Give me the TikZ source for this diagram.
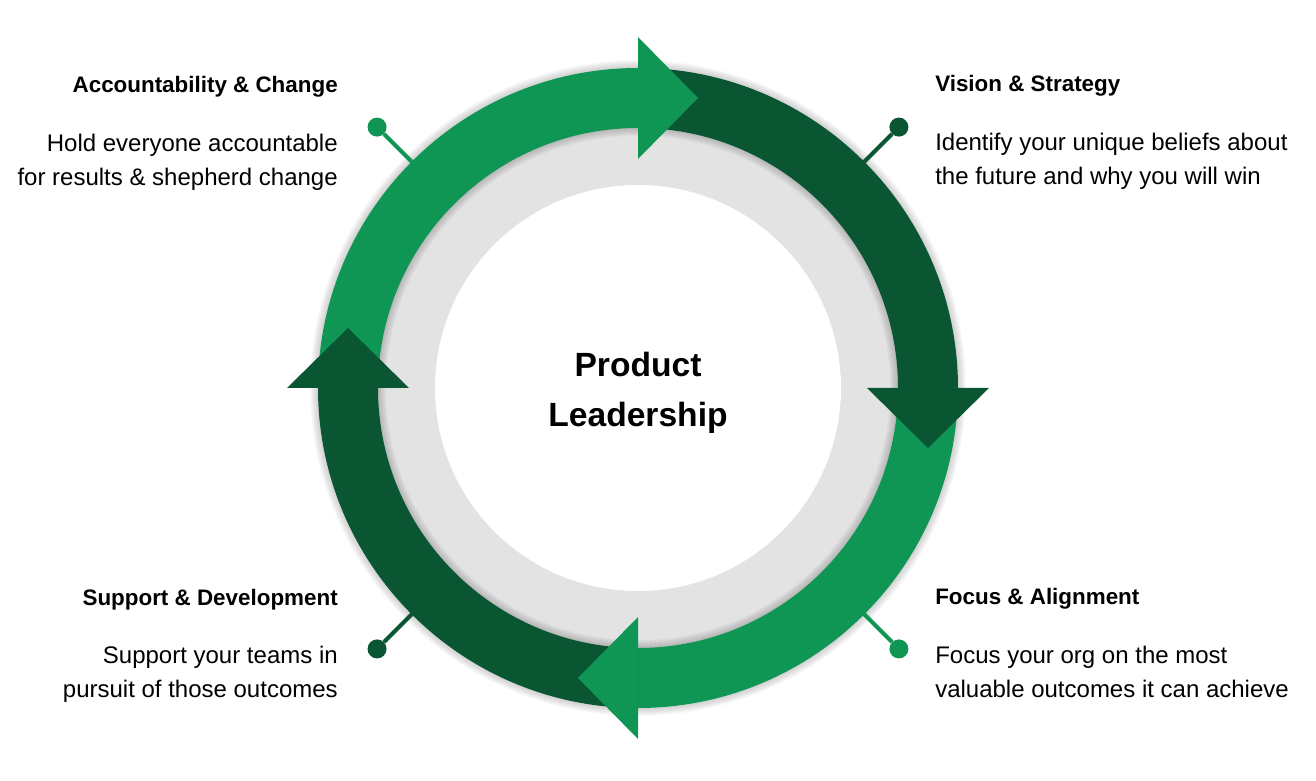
\documentclass[tikz,border=0pt]{standalone}
\usepackage{fontspec}
\setmainfont{Liberation Sans}
\definecolor{lgreen}{HTML}{109654}
\definecolor{dgreen}{HTML}{0A5633}
\definecolor{ringgray}{HTML}{E3E3E3}
\tikzset{
  dot/.style={circle,inner sep=0pt,minimum size=14.25pt,fill=#1},
  stem/.style={line width=3pt,draw=#1},
  head/.style={font=\fontsize{16.8}{20}\selectfont\bfseries,inner sep=0pt},
  body/.style={font=\fontsize{18}{25.5}\selectfont,inner sep=0pt},
  title/.style={font=\fontsize{25.2}{37.5}\selectfont\bfseries,inner sep=0pt,align=center}
}
\begin{document}
\begin{tikzpicture}[x=.75pt,y=.75pt]
	\useasboundingbox(-638,-393)rectangle(678,388);
	\coordinate(O)at(0,0);
	% rings
	\fill[ringgray](O)circle[radius=290];
	\fill[white](O)circle[radius=203];
	\foreach\k in{1,...,8}{\draw[black,opacity=.025,line width=\k*1.5pt](O)circle[radius=320](O)circle[radius=260];}
	\foreach\a/\c in{90/lgreen,0/dgreen,-90/lgreen,180/dgreen}{
		\fill[\c](\a+90:320)arc[start angle=\a+90,end angle=\a,radius=320]--(\a:260)arc[start angle=\a,end angle=\a+90,radius=260]--cycle;}
	\foreach\a/\c in{90/lgreen,0/dgreen,-90/lgreen,180/dgreen}{
		\fill[\c,rotate=\a-90](0,351)--(60,290)--(0,229)--cycle;}
	% pins
	\foreach\n/\a/\c in{acc/135/lgreen,vis/45/dgreen,foc/-45/lgreen,sup/-135/dgreen}{
		\coordinate(\n e)at(\a:320);
		\node[dot=\c](\n d)at(\a:369){};
		\draw[stem=\c](\n d)--(\n e);}
	% texts (base = last line)
	\node[title,anchor=base](ttl)at(0,-39){Product\\Leadership};
	\node[head,anchor=base east](acch)at(-300,295){Accountability \& Change};
	\node[body,anchor=base east,align=right](accb)at(-300,202){Hold everyone accountable\\for results \& shepherd change};
	\node[head,anchor=base west](vish)at(297,296){Vision \& Strategy};
	\node[body,anchor=base west,align=left](visb)at(297,203){Identify your unique beliefs about\\the future and why you will win};
	\node[head,anchor=base east](suph)at(-300,-217){Support \& Development};
	\node[body,anchor=base east,align=right](supb)at(-300,-309){Support your teams in\\pursuit of those outcomes};
	\node[head,anchor=base west](foch)at(297,-216){Focus \& Alignment};
	\node[body,anchor=base west,align=left](focb)at(297,-309){Focus your org on the most\\valuable outcomes it can achieve};
\end{tikzpicture}
\end{document}
